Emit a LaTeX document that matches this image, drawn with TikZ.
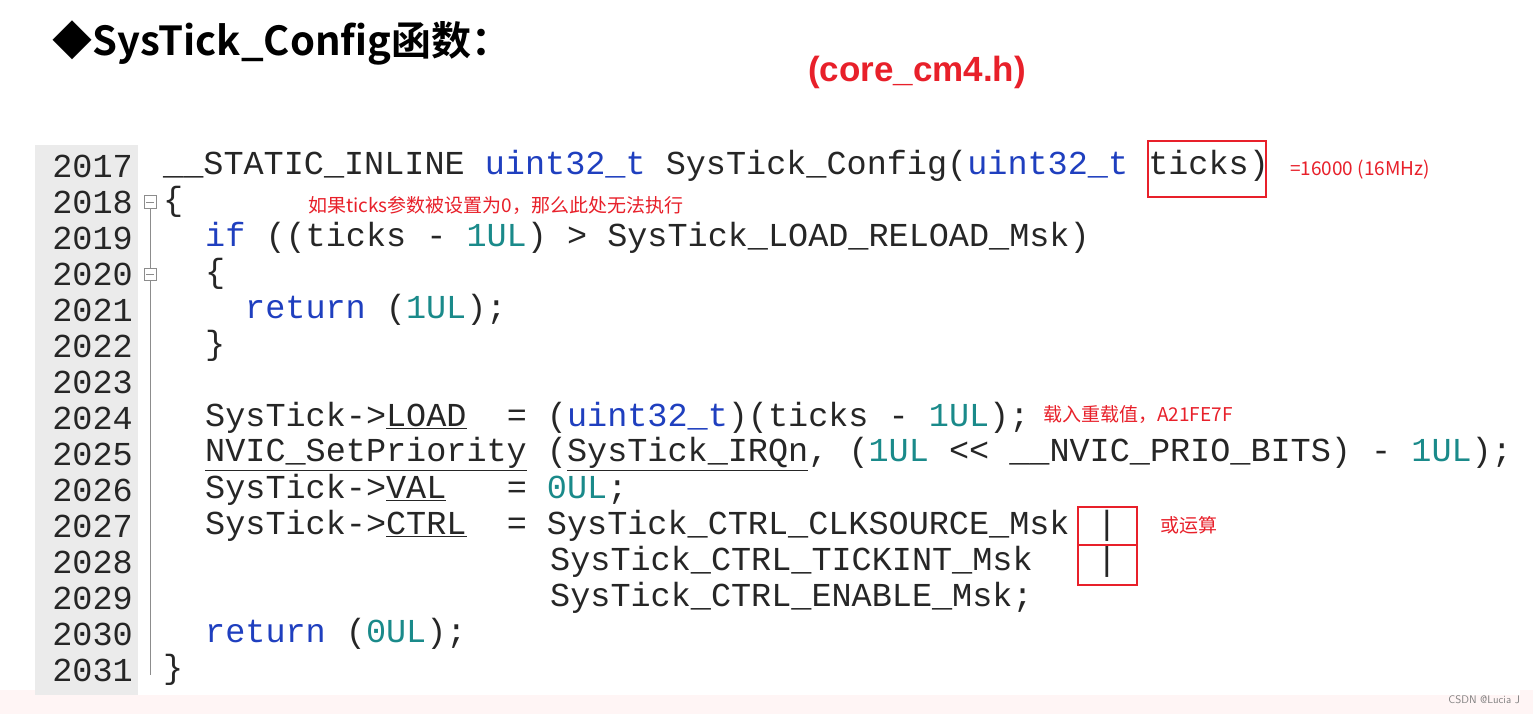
\documentclass[tikz,border=0pt]{standalone}
\usepackage{fontspec}
\setmonofont{Liberation Mono}
\newfontfamily\cjk{Noto Sans CJK SC}
\newfontfamily\cjkb{Noto Sans CJK SC Bold}
\newfontfamily\sansb{Liberation Sans}
\definecolor{kw}{HTML}{1F3FBF}
\definecolor{nm}{HTML}{1A8A8A}
\definecolor{ann}{HTML}{E8202A}
\newcommand{\kw}[1]{\textcolor{kw}{#1}}
\newcommand{\nm}[1]{\textcolor{nm}{#1}}
\tikzset{
 code/.style={anchor=west,inner sep=0pt,font=\fontsize{33.5}{36}\ttfamily,text=black!85},
 lnum/.style={anchor=east,inner sep=0pt,font=\fontsize{33.5}{36}\ttfamily,text=black!85},
 note/.style={anchor=west,inner sep=0pt,font=\fontsize{19}{22}\cjk,text=ann},
 redbox/.style={draw=ann,line width=2pt}
}
\begin{document}
\begin{tikzpicture}[x=1pt,y=-1pt]
\useasboundingbox (0,0) rectangle (1533,714);
\fill[white] (0,0) rectangle (1533,714);
\fill[red!4] (0,690) rectangle (1533,714);
\fill[white] (35,145) rectangle (1520,695);
\fill[black!8] (35,145) rectangle (138,695);
\draw[black!45,line width=1pt] (150,200) -- (150,675);
\draw[black!45,line width=1pt,fill=white] (144,196) rectangle (156,208);
\draw[black!45] (146,202) -- (154,202);
\draw[black!45,line width=1pt,fill=white] (144,268) rectangle (156,280);
\draw[black!45] (146,274) -- (154,274);
\node[anchor=west,inner sep=0pt,font=\fontsize{40}{44}\cjkb] (title) at (52,43) {◆SysTick\_Config函数：};
\node[inner sep=0pt,font=\fontsize{35}{40}\sansb\bfseries,text=ann] (file) at (917,72) {(core\_cm4.h)};
\foreach \n [count=\i from 0] in {2017,...,2031}
  \node[lnum] (n\n) at (133,166+36*\i) {\n};
\node[code] (l0) at (163,166) {\_\_STATIC\_INLINE \kw{uint32\_t} SysTick\_Config(\kw{uint32\_t} ticks)};
\node[code] (l1) at (163,202) {\{};
\node[code] (l2) at (205,238) {\kw{if} ((ticks - \nm{1UL}) > SysTick\_LOAD\_RELOAD\_Msk)};
\node[code] (l3) at (205,274) {\{};
\node[code] (l4) at (245,310) {\kw{return} (\nm{1UL});};
\node[code] (l5) at (205,346) {\}};
\node[code] (l7) at (205,418) {SysTick->\underline{LOAD}\ \ = (\kw{uint32\_t})(ticks - \nm{1UL});};
\node[code] (l8) at (205,454) {\underline{NVIC\_SetPriority} (\underline{SysTick\_IRQn}, (\nm{1UL} << \_\_NVIC\_PRIO\_BITS) - \nm{1UL});};
\node[code] (l9) at (205,490) {SysTick->\underline{VAL}\ \ \ = \nm{0UL};};
\node[code] (l10) at (205,526) {SysTick->\underline{CTRL}\ \ = SysTick\_CTRL\_CLKSOURCE\_Msk};
\node[code] (l11) at (550,562) {SysTick\_CTRL\_TICKINT\_Msk};
\node[code] (l12) at (550,598) {SysTick\_CTRL\_ENABLE\_Msk;};
\node[code] (l13) at (205,634) {\kw{return} (\nm{0UL});};
\node[code] (l14) at (163,670) {\}};
\node[code,anchor=center] (or1) at (1107,526) {|};
\node[code,anchor=center] (or2) at (1107,562) {|};
\draw[redbox] (1148,141) rectangle (1266,197);
\draw[redbox] (1078,507) rectangle (1137,545);
\draw[redbox] (1078,545) rectangle (1137,585);
\node[note] (a1) at (1290,170) {=16000 (16MHz)};
\node[note] (a2) at (308,205) {如果ticks参数被设置为0，那么此处无法执行};
\node[note] (a3) at (1043,415) {载入重载值，A21FE7F};
\node[note] (a4) at (1160,525) {或运算};
\node[anchor=east,inner sep=0pt,font=\fontsize{11}{12}\sffamily,text=black!50] (wm) at (1520,700) {CSDN @Lucia J};
\end{tikzpicture}
\end{document}
